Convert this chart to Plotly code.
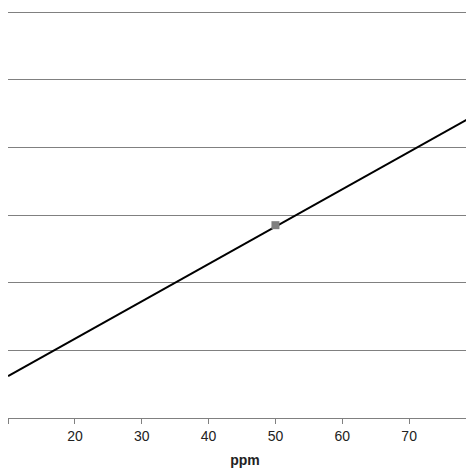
import plotly.graph_objects as go

line_x = [10, 81]
line_y = [0.62, 4.54]
point_x = [50]
point_y = [2.85]
x_ticks = [10, 20, 30, 40, 50, 60, 70, 80]

fig = go.Figure()
fig.add_trace(go.Scatter(x=line_x, y=line_y, mode="lines",
                         line=dict(color="black", width=2), showlegend=False, cliponaxis=True))
fig.add_trace(go.Scatter(x=point_x, y=point_y, mode="markers",
                         marker=dict(symbol="square", size=8, color="#808080"), showlegend=False))
fig.update_layout(
    width=474, height=474,
    margin=dict(l=0, r=0, t=0, b=64, autoexpand=False),
    plot_bgcolor="white", paper_bgcolor="white",
    font=dict(family="Liberation Sans, Arial", size=14, color="#222"),
    xaxis=dict(range=[9.99, 80.9], tickvals=x_ticks, showgrid=False, zeroline=False,
               automargin=False,
               showline=True, linecolor="#808080", linewidth=1,
               ticks="outside", ticklen=5, tickcolor="#808080",
               title=dict(text="<b>ppm</b>", font=dict(size=14, color="#222"), standoff=12)),
    yaxis=dict(range=[0, 6.06], dtick=1, showgrid=True, gridcolor="#808080", gridwidth=1,
               automargin=False,
               zeroline=False, showticklabels=False, showline=False),
)
fig.write_html("out.html")
